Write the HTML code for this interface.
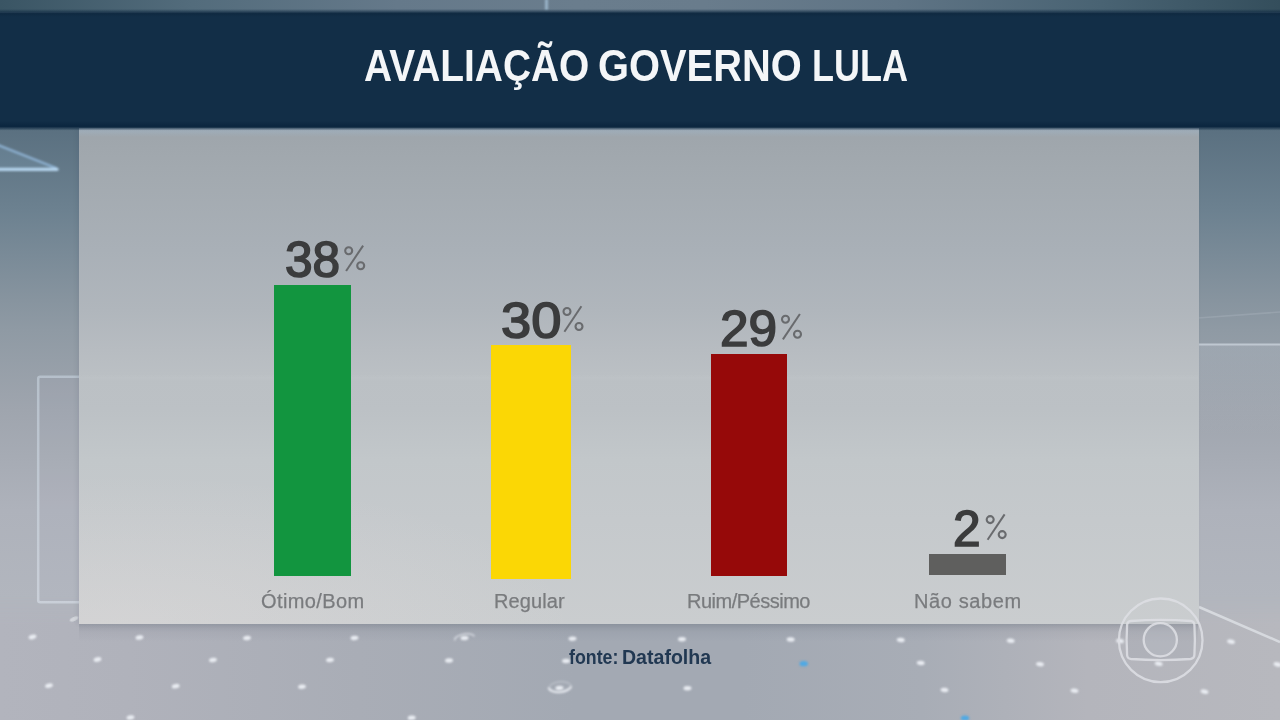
<!DOCTYPE html>
<html lang="pt-BR">
<head>
<meta charset="utf-8">
<title>Avaliação Governo Lula</title>
<style>
  html, body { margin: 0; padding: 0; }
  body {
    width: 1280px; height: 720px; overflow: hidden; position: relative;
    font-family: "Liberation Sans", sans-serif;
    background: #b1b5be;
  }
  .abs { position: absolute; }
  #bg {
    left: 0; top: 0; width: 1280px; height: 720px;
    background: linear-gradient(to bottom,
      #587080 0px, #5a7080 128px, #6c8190 210px, #87949f 300px, #8f9aa4 330px,
      #9fa5ae 410px, #aeb2bb 510px, #b2b6be 600px, #b3b6be 720px);
  }
  #topstrip {
    left: 0; top: 0; width: 1280px; height: 12px;
    background: linear-gradient(to right, #3a5564 0%, #536c7c 15%, #65798a 31%, #6a7d8d 45%, #697c8c 55%, #5f7485 70%, #496373 86%, #344e5c 100%);
  }
  #header {
    left: 0; top: 9px; width: 1280px; height: 122px; z-index: 2;
    background: linear-gradient(to bottom, rgba(18,46,71,0) 0px, rgba(17,44,68,0.5) 2.2px, #0f2941 4.6px, #122e47 8px, #122e47 112px, #0c2740 116.5px, #0c2740 117.5px, rgba(12,39,64,0.55) 119.4px, rgba(12,39,64,0) 121.6px);
  }
  #panel {
    left: 79px; top: 128px; width: 1120px; height: 496px;
    background: linear-gradient(to bottom, rgba(158,184,206,0.42) 0px, rgba(158,184,206,0.30) 4px, rgba(158,184,206,0) 9px),
      linear-gradient(to bottom,
      #9ea5ab 0px, #a2a9af 40px, #a9b0b7 122px, #b0b6bc 182px, #b7bcc1 222px, #bbc0c4 250px, #bcc1c5 282px, #c2c7ca 332px, #c5c9cc 392px, #cacdcf 496px);
    box-shadow: -2px 0 4px rgba(40,58,78,0.09);
  }
  .bar { position: absolute; filter: blur(0.6px); }
  .num {
    position: absolute; white-space: nowrap; line-height: 1;
    font-weight: normal; color: #3b3c3d; font-size: 49.6px;
    -webkit-text-stroke: 1.6px #3b3c3d; filter: blur(0.5px);
  }
  .lab {
    position: absolute; white-space: nowrap; line-height: 1;
    color: #797b7e; font-size: 20px; filter: blur(0.5px); -webkit-text-stroke: 0.25px #797b7e;
  }
  .tw {
    position: absolute; white-space: nowrap; line-height: 1;
    font-weight: bold; color: #f4f6f8; font-size: 45px; z-index: 3;
    transform-origin: left top; filter: blur(0.5px);
  }
  #fonte, .fonte {
    position: absolute; white-space: nowrap; line-height: 1;
    font-weight: bold; color: #213852; font-size: 20.5px; filter: blur(0.5px);
  }
</style>
</head>
<body>
<div id="bg" class="abs"></div>
<div id="topstrip" class="abs"></div>
<div class="abs" style="left:545px;top:-1px;width:3px;height:11px;background:#98b3c7;filter:blur(0.8px)"></div>
<div id="header" class="abs"></div>

<div id="floor" class="abs" style="left:0;top:596px;width:1280px;height:124px;background:
  linear-gradient(to right, #b2b4bd 0%, #b0b2bb 10%, #a9adb6 28%, #a3a9b3 45%, #a3a9b3 58%, #a8adb6 72%, #b4b5bc 85%, #b7b8be 100%);
  -webkit-mask-image: linear-gradient(to bottom, rgba(0,0,0,0) 0px, #000 28px); mask-image: linear-gradient(to bottom, rgba(0,0,0,0) 0px, #000 28px);"></div>
<div id="pshadow" class="abs" style="left:79px;top:624px;width:1119px;height:18px;background:
  linear-gradient(to bottom, rgba(70,78,95,0.20) 0px, rgba(70,78,95,0.06) 8px, rgba(70,78,95,0) 18px);"></div>
<!-- decorative svg behind panel -->
<svg class="abs" style="left:0;top:0" width="1280" height="720" viewBox="0 0 1280 720">
  <defs><linearGradient id="rg1" x1="0" y1="0" x2="0" y2="1"><stop offset="0" stop-color="#c4cad4" stop-opacity="0.22"/><stop offset="1" stop-color="#c4cad4" stop-opacity="0"/></linearGradient><linearGradient id="rs1" gradientUnits="userSpaceOnUse" x1="0" y1="376" x2="0" y2="603"><stop offset="0" stop-color="#bcc7d2"/><stop offset="1" stop-color="#cfd5de"/></linearGradient><filter id="bl2" x="-5%" y="-5%" width="110%" height="110%"><feGaussianBlur stdDeviation="0.6"/></filter><filter id="bl1" x="-10%" y="-30%" width="120%" height="160%"><feGaussianBlur stdDeviation="0.9"/></filter></defs>
  <g filter="url(#bl1)">
    <polygon points="-2,145 57,168.5 -2,168.5" fill="rgba(150,190,225,0.13)"/>
    <line x1="-2" y1="145" x2="56" y2="168" stroke="#8fb3d4" stroke-width="2.4" stroke-linecap="round"/>
    <line x1="-2" y1="169.3" x2="57" y2="169.3" stroke="#b6d5ee" stroke-width="3.2" stroke-linecap="round"/>
  </g>
  <rect x="38.2" y="376.8" width="200" height="225.4" rx="2" fill="rgba(184,192,208,0.06)" stroke="url(#rs1)" stroke-width="2.5" stroke-opacity="0.82" filter="url(#bl2)"/>
  <ellipse cx="74" cy="619" rx="4.5" ry="1.9" transform="rotate(-24 74 619)" fill="#dcdfe4" fill-opacity="0.8" filter="url(#bl2)"/>
  <line x1="1198" y1="344.5" x2="1280" y2="344.5" stroke="#bfc8d1" stroke-width="2"/>
  <rect x="1198" y="345" width="82" height="90" fill="url(#rg1)"/>
  <line x1="1198" y1="318" x2="1280" y2="312" stroke="#a9b5bf" stroke-width="1.6" stroke-opacity="0.4"/>
  <line x1="1199" y1="607" x2="1280" y2="642" stroke="#d6d9de" stroke-width="2.5"/>
</svg>

<div id="panel" class="abs"></div>

<div class="abs" style="left:79px;top:374px;width:1119px;height:8px;background:linear-gradient(to bottom, rgba(255,255,255,0), rgba(235,240,245,0.035) 45%, rgba(235,240,245,0.035) 55%, rgba(255,255,255,0))"></div>
<div class="abs" style="left:79px;top:440px;width:520px;height:184px;background:radial-gradient(ellipse 460px 150px at 40px 184px, rgba(236,228,226,0.28), rgba(236,228,226,0.14) 50%, rgba(236,228,226,0) 100%)"></div>
<!-- bars -->
<div class="bar" style="left:274px;top:284.5px;width:77.3px;height:291.5px;background:#12953f"></div>
<div class="bar" style="left:491px;top:345px;width:80px;height:234px;background:#fbd705"></div>
<div class="bar" style="left:710.7px;top:354.3px;width:76.2px;height:222px;background:#960909"></div>
<div class="bar" style="left:928.8px;top:553.8px;width:76.8px;height:21.5px;background:#5f5f5e"></div>

<!-- numbers -->
<div class="num" id="n1" style="left:285px;top:236px">38</div>
<div class="num" id="n2" style="left:501px;top:297px;transform:scaleX(1.095);transform-origin:left top">30</div>
<div class="num" id="n3" style="left:720.3px;top:305px;transform:scaleX(1.035);transform-origin:left top">29</div>
<div class="num" id="n4" style="left:953px;top:505px">2</div>

<!-- percent signs -->
<svg class="abs" style="left:0;top:0" width="1280" height="720" viewBox="0 0 1280 720">
  <defs>
    <g id="pc" fill="none" stroke="#696b6e" stroke-width="2.1" stroke-linecap="butt">
      <circle cx="5" cy="5.2" r="3.5"/>
      <circle cx="17" cy="20.2" r="3.5"/>
      <line x1="19.4" y1="0" x2="2.4" y2="25.4" stroke-width="2"/>
    </g>
  </defs>
  <use href="#pc" x="343.7" y="245.6"/>
  <use href="#pc" x="562" y="306.3"/>
  <use href="#pc" x="780.5" y="314"/>
  <use href="#pc" x="985.2" y="514.4"/>
</svg>

<!-- labels -->
<div class="lab" id="l1" style="left:261px;top:591px;letter-spacing:0.4px">Ótimo/Bom</div>
<div class="lab" id="l2" style="left:494px;top:591px;letter-spacing:0.1px">Regular</div>
<div class="lab" id="l3" style="left:687px;top:591px;letter-spacing:-0.5px">Ruim/Péssimo</div>
<div class="lab" id="l4" style="left:914px;top:591px;letter-spacing:0.6px">Não sabem</div>

<!-- title -->
<div class="tw" id="t1" style="left:363.5px;top:43px;transform:scaleX(0.864)">AVALIAÇÃO</div>
<div class="tw" id="t2" style="left:597.8px;top:43px;transform:scaleX(0.886)">GOVERNO</div>
<div class="tw" id="t3" style="left:811.5px;top:43px;transform:scaleX(0.80)">LULA</div>

<div id="fonte" style="left:568.8px;top:647.3px;transform:scaleX(0.867);transform-origin:left top">fonte:</div>
<div id="fonte2" class="fonte" style="left:621.8px;top:647.3px;transform:scaleX(0.954);transform-origin:left top">Datafolha</div>

<!-- foreground svg: dots + logo -->
<svg class="abs" id="fg" style="left:0;top:0" width="1280" height="720" viewBox="0 0 1280 720">
  <g fill="#eceff4" fill-opacity="0.95" filter="url(#soft3)">
    <ellipse cx="32.5" cy="637" rx="4" ry="2.2" transform="rotate(-13.3 32.5 637)"/>
    <ellipse cx="139.5" cy="637.5" rx="4" ry="2.2" transform="rotate(-10.9 139.5 637.5)"/>
    <ellipse cx="247" cy="638" rx="4" ry="2.2" transform="rotate(-8.6 247 638)"/>
    <ellipse cx="354.5" cy="638" rx="4" ry="2.2" transform="rotate(-6.2 354.5 638)"/>
    <ellipse cx="464.5" cy="638" rx="4" ry="2.2" transform="rotate(-3.8 464.5 638)"/>
    <ellipse cx="572.5" cy="638.7" rx="4" ry="2.2" transform="rotate(-1.5 572.5 638.7)"/>
    <ellipse cx="682" cy="639.2" rx="4" ry="2.2" transform="rotate(0.9 682 639.2)"/>
    <ellipse cx="790.7" cy="639.5" rx="4" ry="2.2" transform="rotate(3.3 790.7 639.5)"/>
    <ellipse cx="900.7" cy="640" rx="4" ry="2.2" transform="rotate(5.7 900.7 640)"/>
    <ellipse cx="1010.7" cy="640.7" rx="4" ry="2.2" transform="rotate(8.1 1010.7 640.7)"/>
    <ellipse cx="1120" cy="641" rx="4" ry="2.2" transform="rotate(10.5 1120 641)"/>
    <ellipse cx="1231" cy="641.7" rx="4" ry="2.2" transform="rotate(12.9 1231 641.7)"/>
    <ellipse cx="97.5" cy="659.5" rx="4" ry="2.2" transform="rotate(-11.9 97.5 659.5)"/>
    <ellipse cx="213" cy="660" rx="4" ry="2.2" transform="rotate(-9.3 213 660)"/>
    <ellipse cx="330" cy="660" rx="4" ry="2.2" transform="rotate(-6.8 330 660)"/>
    <ellipse cx="449" cy="660.5" rx="4" ry="2.2" transform="rotate(-4.2 449 660.5)"/>
    <ellipse cx="566" cy="661" rx="4" ry="2.2" transform="rotate(-1.6 566 661)"/>
    <ellipse cx="920.7" cy="663" rx="4" ry="2.2" transform="rotate(6.1 920.7 663)"/>
    <ellipse cx="1040" cy="664.2" rx="4" ry="2.2" transform="rotate(8.8 1040 664.2)"/>
    <ellipse cx="1158.7" cy="663.7" rx="4" ry="2.2" transform="rotate(11.3 1158.7 663.7)"/>
    <ellipse cx="1277.5" cy="664.5" rx="4" ry="2.2" transform="rotate(13.9 1277.5 664.5)"/>
    <ellipse cx="49" cy="685.7" rx="4" ry="2.2" transform="rotate(-12.9 49 685.7)"/>
    <ellipse cx="175.7" cy="686.2" rx="4" ry="2.2" transform="rotate(-10.2 175.7 686.2)"/>
    <ellipse cx="302" cy="686.7" rx="4" ry="2.2" transform="rotate(-7.4 302 686.7)"/>
    <ellipse cx="559.5" cy="688" rx="4" ry="2.2" transform="rotate(-1.8 559.5 688)"/>
    <ellipse cx="687.5" cy="688.2" rx="4" ry="2.2" transform="rotate(1.0 687.5 688.2)"/>
    <ellipse cx="944.5" cy="690" rx="4" ry="2.2" transform="rotate(6.7 944.5 690)"/>
    <ellipse cx="1074.5" cy="690.7" rx="4" ry="2.2" transform="rotate(9.5 1074.5 690.7)"/>
    <ellipse cx="1204.5" cy="691.7" rx="4" ry="2.2" transform="rotate(12.3 1204.5 691.7)"/>
    <ellipse cx="130.5" cy="717.5" rx="4" ry="2.2" transform="rotate(-11.1 130.5 717.5)"/>
    <ellipse cx="411.7" cy="717.8" rx="4" ry="2.2" transform="rotate(-5.0 411.7 717.8)"/>
  </g>
  <g fill="#4fa9e4" filter="url(#soft2)">
    <ellipse cx="803.7" cy="663.7" rx="4.2" ry="2.6"/>
    <ellipse cx="965" cy="718" rx="4.2" ry="2.6"/>
  </g>
  <g fill="none" stroke="#e3e6ec" filter="url(#soft3)">
    <path d="M455,640.5 A10,4.3 -8 0 1 474.5,636.3" stroke-width="1.5" stroke-opacity="0.8"/>
    <path d="M548.8,687.5 A11.3,5.6 -6 0 0 571.2,686.3" stroke-width="2.4"/>
    <path d="M548.8,687.5 A11.3,5.6 -6 0 1 571.2,686.3" stroke-width="1" stroke-opacity="0.6"/>
  </g>
  <g fill="none" stroke="#dddfe4" stroke-width="2.3" opacity="0.88" filter="url(#soft)">
    <circle cx="1160.7" cy="640.3" r="41.8"/>
    <path d="M1131,621 Q1160.7,618.8 1190.5,621 Q1194.2,621.3 1194.4,625 Q1195.4,640 1194.4,655 Q1194.2,658.6 1190.5,659 Q1160.7,661.2 1131,659 Q1127.3,658.6 1127.1,655 Q1126.1,640 1127.1,625 Q1127.3,621.3 1131,621 Z" fill="rgba(150,154,165,0.18)"/>
    <circle cx="1160.3" cy="639.8" r="16.6" fill="rgba(190,192,200,0.35)"/>
  </g>
  <defs><filter id="soft" x="-20%" y="-20%" width="140%" height="140%"><feGaussianBlur stdDeviation="0.6"/></filter><filter id="soft3" x="-30%" y="-50%" width="160%" height="200%"><feGaussianBlur stdDeviation="0.9"/></filter><filter id="soft2" x="-50%" y="-50%" width="200%" height="200%"><feGaussianBlur stdDeviation="1.2"/></filter></defs>
</svg>
</body>
</html>
